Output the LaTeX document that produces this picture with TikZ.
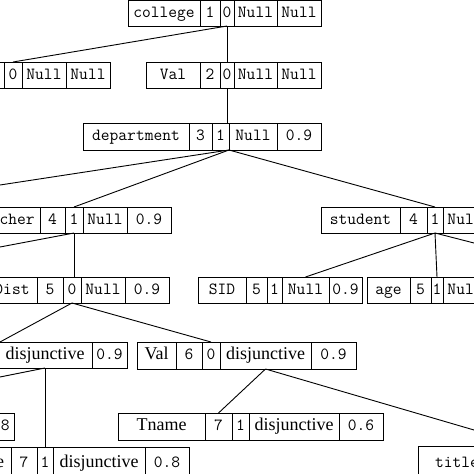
\documentclass[tikz,border=0pt]{standalone}
\usepackage{fontspec}
\setmainfont{Liberation Serif}
\tikzset{cell/.style={draw,line width=0.9pt,inner sep=0pt,outer sep=0pt,
                      text height=11.5pt,text depth=3.5pt,
                      anchor=north west,font=\ttfamily\fontsize{17}{17}\selectfont}}
\tikzset{link/.style={draw,line width=0.9pt}}
\newcommand{\srf}[1]{{\rmfamily\fontsize{18}{18}\selectfont #1}}
% one record: name, top, bottom, list of left/right/text
\newcommand{\record}[4]{%
  \foreach \l/\r/\txt [count=\i] in {#4}{%
    \node[cell,minimum width={(\r-(\l))*1pt},minimum height={(#3-(#2))*1pt}]
      (#1-\i) at (\l,#2) {\txt};
  }}

\begin{document}
\begin{tikzpicture}[x=1pt,y=-1pt]
    \useasboundingbox (0,0) rectangle (474,474);
    \clip (0,0) rectangle (474,474);
    % Records, row by row
    \record{college}{0.5}{26}{128/200/college,200/220/1,220/234/0,234/277/Null,277/321/Null}
    \record{left}{62}{88}{-30/4/{},4/22/0,22/66/Null,66/110/Null}
    \record{val}{62}{88}{146/200/Val,200/220/2,220/234/0,234/277/Null,277/321/Null}
    \record{dept}{123}{150}{83/189/department,189/212/3,212/229/1,229/277/Null,277/321/0.9}
    \record{teacher}{207}{233}{-32/40/teacher,40/65/4,65/83/1,83/127/Null,127/171/0.9}
    \record{student}{207}{233}{321/400/student,400/427/4,427/443/1,443/487/Null,487/531/0.9}
    \record{dist}{277}{303}{-13/37/Dist,37/63/5,63/81/0,81/125/Null,125/169/0.9}
    \record{sid}{277}{303}{198/246/SID,246/267/5,267/282/1,282/329/Null,329/362/0.9}
    \record{age}{277}{303}{367/410/age,410/431/5,431/443/1,443/487/Null,487/531/0.9}
    \record{disj}{342}{368}{-2/92/\srf{disjunctive},92/127/0.9}
    \record{valsix}{342}{369}{137/176/\srf{Val},176/202/6,202/220/0,220/311/\srf{disjunctive},311/356/0.9}
    \record{prob}{413}{440}{-21/14/0.8}
    \record{tname}{413}{440}{118/205/\srf{Tname},205/232/7,232/249/1,249/339/\srf{disjunctive},339/383/0.6}
    \record{lower}{447}{480}{-53/11/\srf{Tname},11/37/7,37/53/1,53/145/\srf{disjunctive},145/189/0.8}
    \record{title}{446}{480}{418/496/title}
    % Free ends of the links that leave the picture
    \coordinate (deptout) at (0,185);
    \coordinate (teachout) at (0,247);
    \coordinate (studout) at (474,243);
    \coordinate (distout) at (0,342);
    \coordinate (disjout) at (0,377);
    \coordinate (valsixout) at (474,430);
    % Links
    \path[link] (college-3.south) -- (left-2.north);
    \path[link] (college-3.south) -- (val-3.north);
    \path[link] (val-3.south) -- (val-3.south |- dept-3.north);
    \path[link] (dept-3.south east) -- (deptout);
    \path[link] (dept-3.south east) -- (teacher-3.north);
    \path[link] (dept-3.south east) -- (student-3.north);
    \path[link] (teacher-3.south) -- (teachout);
    \path[link] (teacher-3.south) -- (teacher-3.south |- dist-3.north);
    \path[link] (student-3.south) -- (sid-4.north);
    \path[link] (student-3.south) -- (age-3.north);
    \path[link] (student-3.south) -- (studout);
    \path[link] (dist-3.south) -- (distout);
    \path[link] (dist-3.south) -- (valsix-3.north);
    \path[link] (disj-1.south) -- (disjout);
    \path[link] (disj-1.south) -- (disj-1.south |- lower-3.north);
    \path[link] (valsix-4.south) -- (tname-2.north);
    \path[link] (valsix-4.south) -- (valsixout);
\end{tikzpicture}
\end{document}
